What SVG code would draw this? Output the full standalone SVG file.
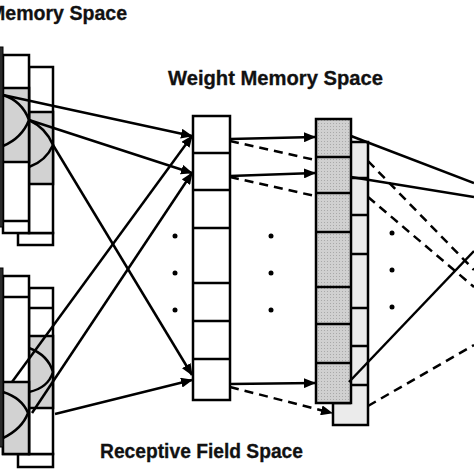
<svg xmlns="http://www.w3.org/2000/svg" width="474" height="474" viewBox="0 0 474 474">
<style>
.box{fill:#fff;stroke:#000;stroke-width:2.5}
.grey{fill:#d2d2d2;stroke:#000;stroke-width:2.5}
.dark{fill:#2a2a2a;stroke:#000;stroke-width:1}
.cell{fill:none;stroke:#000;stroke-width:2.5}
.back{fill:#ebebeb;stroke:#000;stroke-width:2.5}
.shade{fill:url(#dots);stroke:#000;stroke-width:2.5}
.curve{fill:none;stroke:#000;stroke-width:2.5}
.solid{fill:none;stroke:#000;stroke-width:2.5}
.dash{fill:none;stroke:#000;stroke-width:2.5;stroke-dasharray:9 6}
.arr{marker-end:url(#ah)}
.dot{fill:#000}
.title{font-family:"Liberation Sans",Arial,sans-serif;font-weight:700;font-size:20px;fill:#111;stroke:#111;stroke-width:0.3}
</style>
<defs>
<pattern id="dots" width="3" height="3" patternUnits="userSpaceOnUse">
<rect width="3" height="3" fill="#d0d0d0"/>
<rect width="1" height="1" fill="#a9a9a9"/>
</pattern>
<marker id="ah" markerUnits="userSpaceOnUse" markerWidth="12" markerHeight="10" refX="11" refY="5" orient="auto">
<path d="M0,0 L12,5 L0,10 Z" fill="#000"/>
</marker>
</defs>
<rect width="474" height="474" fill="#fff"/>

<g id="title-memory"><text class="title" x="-11" y="20" textLength="138" lengthAdjust="spacingAndGlyphs">Memory Space</text></g>
<g id="title-weight"><text class="title" x="168" y="85" textLength="215" lengthAdjust="spacingAndGlyphs">Weight Memory Space</text></g>
<g id="title-receptive"><text class="title" x="100" y="458" textLength="203" lengthAdjust="spacingAndGlyphs">Receptive Field Space</text></g>

<g id="receptive-top">
<rect class="box" x="18" y="233" width="35" height="12"/>
<rect class="box" x="29" y="67" width="24" height="166"/>
<rect class="grey" x="29" y="112" width="24" height="72"/>
<rect class="box" x="3" y="55" width="26" height="178"/>
<rect class="grey" x="3" y="88" width="26" height="74"/>
<line class="cell" x1="3" y1="221" x2="29" y2="221"/>
<rect class="dark" x="-2" y="47" width="5" height="180"/>
<path class="curve" d="M3,95 Q22,101 29,120 Q22,138 3,146"/>
<path class="curve" d="M29,120 Q46,128 53,145 Q46,161 29,167"/>
</g>

<g id="receptive-bottom">
<rect class="box" x="18" y="454" width="35" height="13"/>
<rect class="box" x="29" y="288" width="24" height="166"/>
<line class="cell" x1="29" y1="308" x2="53" y2="308"/>
<rect class="grey" x="29" y="336" width="24" height="72"/>
<rect class="box" x="3" y="276" width="26" height="178"/>
<line class="cell" x1="3" y1="297" x2="29" y2="297"/>
<rect class="grey" x="3" y="382" width="26" height="72"/>
<rect class="dark" x="-2" y="268" width="5" height="179"/>
<path class="curve" d="M29,348 Q48,355 53,372 Q48,388 29,392"/>
<path class="curve" d="M3,392 Q22,398 28,413 Q22,429 3,438"/>
</g>

<g id="weight-memory">
<rect class="box" x="193" y="116" width="37" height="284"/>
<path class="cell" d="M193,153H230M193,190H230M193,228H230M193,283H230M193,321H230M193,359H230"/>
</g>

<g id="output-back">
<rect class="back" x="333" y="142" width="35" height="283"/>
<path class="cell" d="M351,178H368M351,215H368M351,254H368M351,308H368M351,346H368M351,385H368M333,403H351"/>
</g>

<g id="output-front">
<rect class="shade" x="316" y="119" width="35" height="284"/>
<path class="cell" d="M316,157H351M316,193H351M316,232H351M316,287H351M316,324H351M316,363H351"/>
</g>

<g id="ellipsis">
<circle class="dot" cx="175" cy="236" r="2.5"/>
<circle class="dot" cx="175" cy="273" r="2.5"/>
<circle class="dot" cx="175" cy="310" r="2.5"/>
<circle class="dot" cx="271" cy="236" r="2.5"/>
<circle class="dot" cx="271" cy="273" r="2.5"/>
<circle class="dot" cx="271" cy="310" r="2.5"/>
<circle class="dot" cx="392" cy="233" r="2.5"/>
<circle class="dot" cx="392" cy="270" r="2.5"/>
<circle class="dot" cx="392" cy="307" r="2.5"/>
</g>

<g id="connectors">
<line class="solid arr" x1="3" y1="95" x2="192" y2="136"/>
<line class="solid arr" x1="29" y1="120" x2="192" y2="173"/>
<line class="solid arr" x1="53" y1="145" x2="192" y2="375"/>
<line class="solid arr" x1="12" y1="382" x2="192" y2="136"/>
<line class="solid arr" x1="32" y1="413" x2="192" y2="173"/>
<line class="solid arr" x1="55" y1="414" x2="192" y2="380"/>

<line class="solid arr" x1="230" y1="139" x2="315" y2="137"/>
<line class="solid arr" x1="230" y1="176" x2="315" y2="173"/>
<line class="solid arr" x1="230" y1="384" x2="315" y2="383"/>
<line class="dash" x1="230" y1="141" x2="315" y2="160"/>
<line class="dash" x1="230" y1="177" x2="315" y2="196"/>
<line class="dash arr" x1="230" y1="387" x2="332" y2="413"/>

<line class="solid" x1="351" y1="136" x2="474" y2="183"/>
<line class="solid" x1="351" y1="177" x2="474" y2="197"/>
<line class="dash" x1="368" y1="161" x2="474" y2="270"/>
<line class="dash" x1="368" y1="197" x2="474" y2="287"/>
<line class="solid" x1="349" y1="382" x2="474" y2="251"/>
<line class="dash" x1="368" y1="406" x2="474" y2="345"/>
</g>
</svg>
